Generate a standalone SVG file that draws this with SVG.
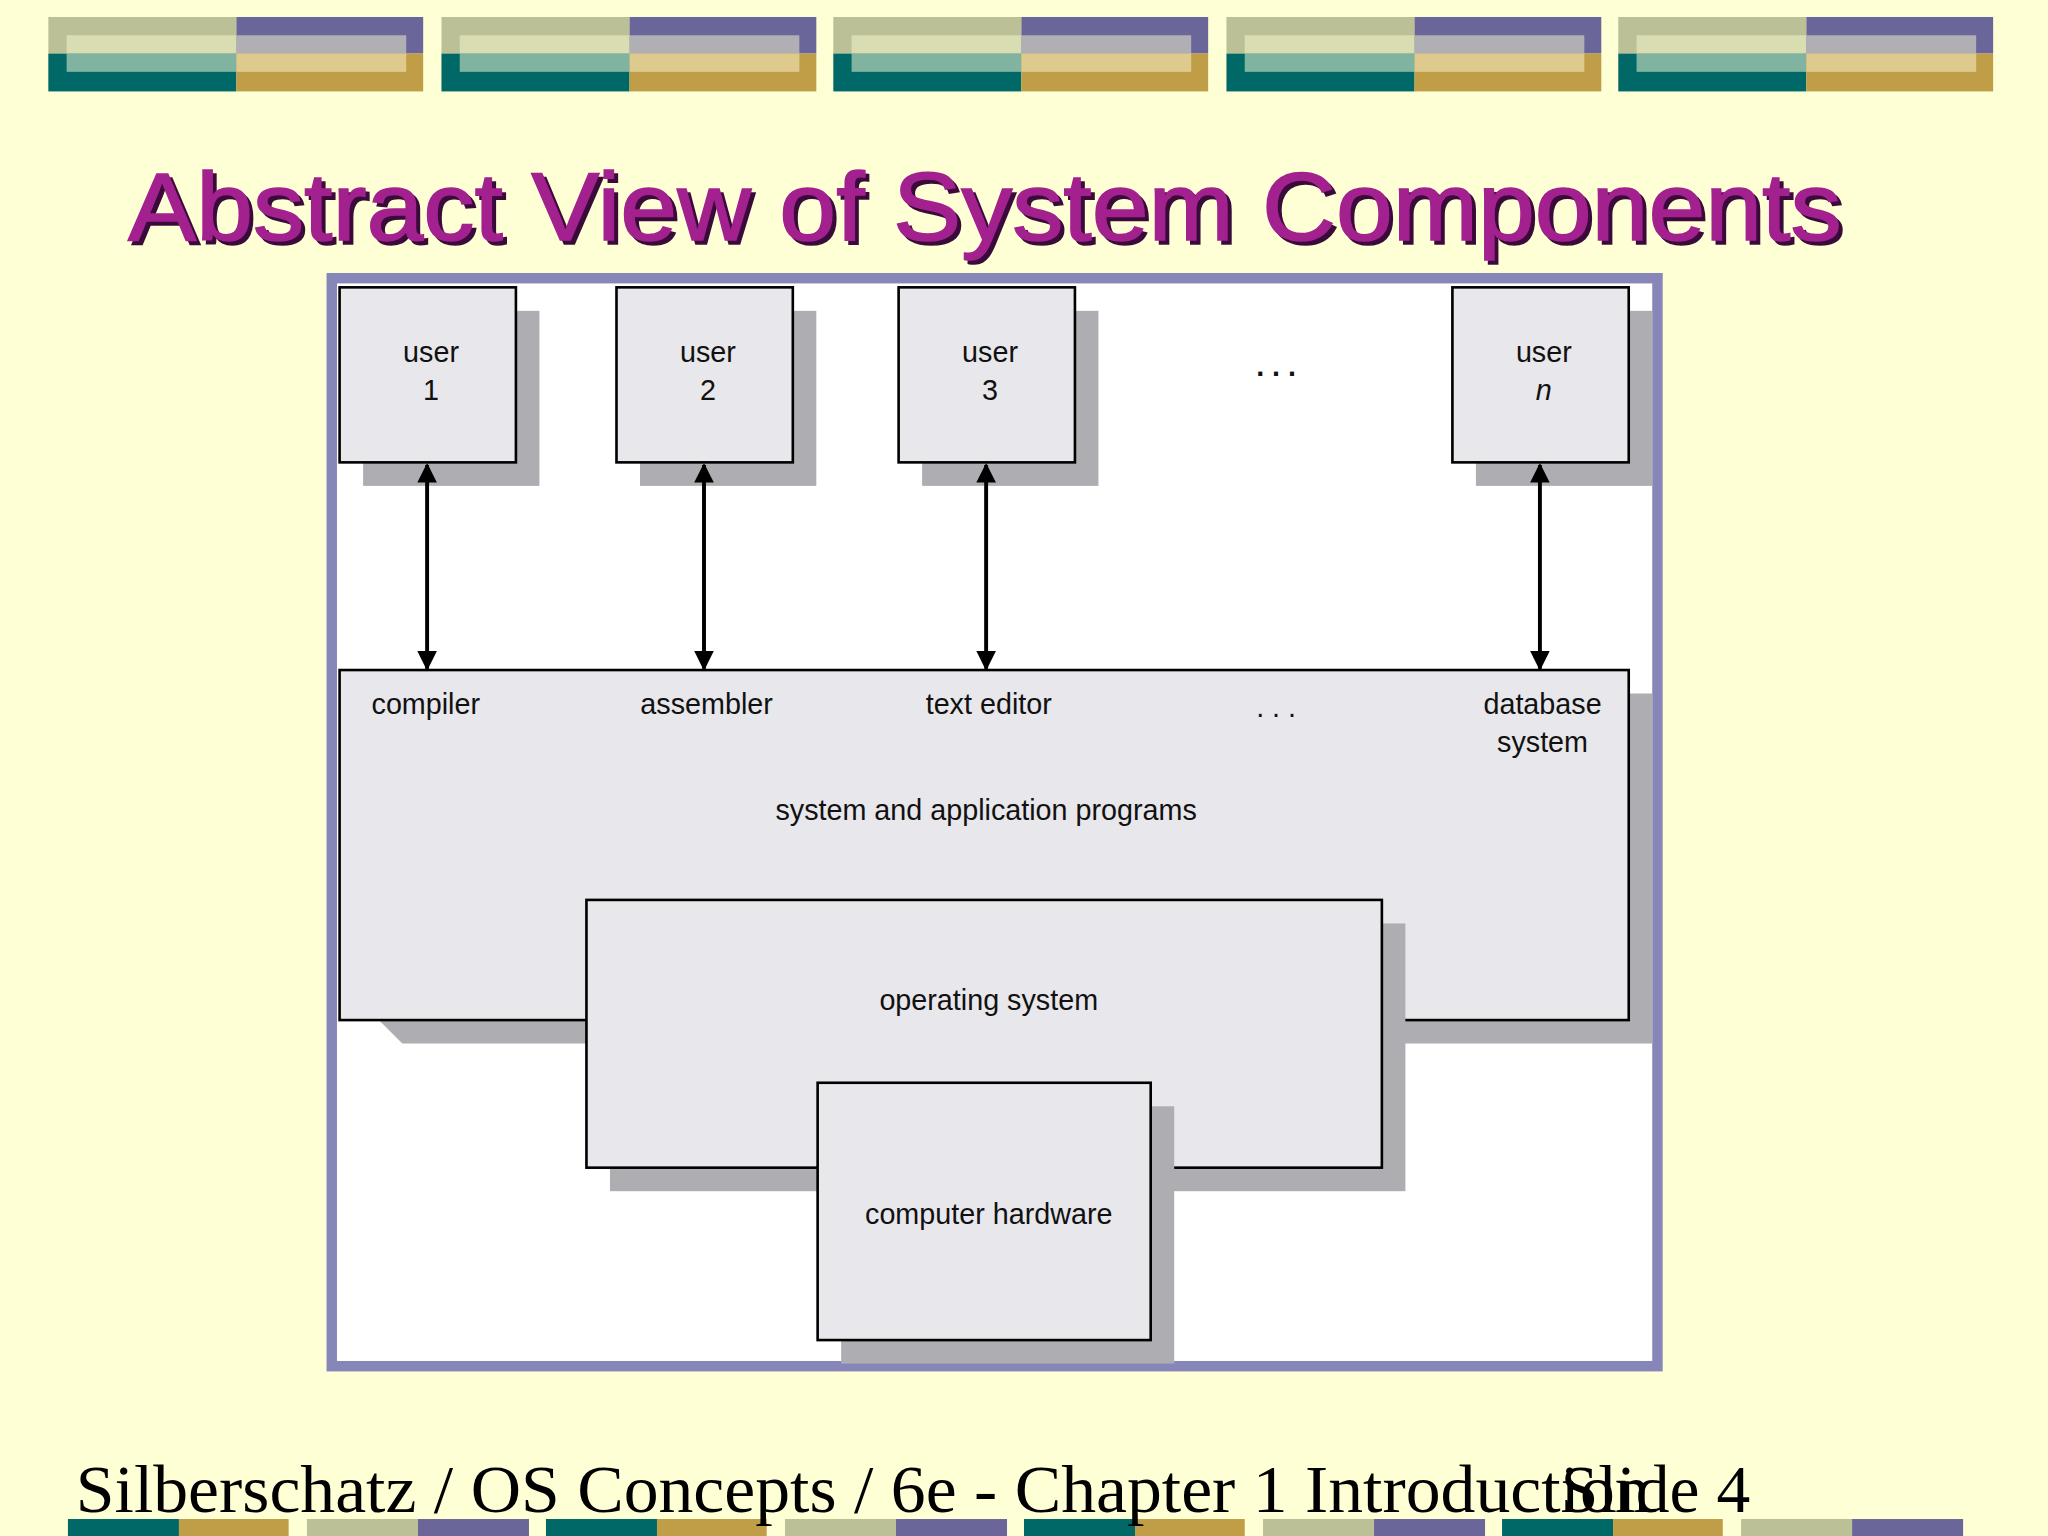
<svg xmlns="http://www.w3.org/2000/svg" width="2048" height="1536" viewBox="0 0 2048 1536">
<defs>
<style>
.box{fill:#e8e7eb;stroke:#000;stroke-width:2}
.sh{fill:#aeadb2}
.t{font-family:"Liberation Sans",Arial,sans-serif;font-size:22px;fill:#111;text-anchor:middle}
.ar{stroke:#000;stroke-width:3;marker-start:url(#a);marker-end:url(#a)}
</style>
<marker id="a" viewBox="0 0 10 10" refX="9" refY="5" markerWidth="5" markerHeight="5" orient="auto-start-reverse"><path d="M0,0L10,5L0,10z" fill="#000"/></marker>
<g id="ban">
<rect x="0" y="0" width="144" height="28" fill="#bcc096"/>
<rect x="144" y="0" width="143" height="28" fill="#6a6699"/>
<rect x="0" y="28" width="144" height="29" fill="#006866"/>
<rect x="144" y="28" width="143" height="29" fill="#c09e48"/>
<rect x="14" y="14" width="130" height="14" fill="#dadcb2"/>
<rect x="144" y="14" width="130" height="14" fill="#b0b0b4"/>
<rect x="14" y="28" width="130" height="14" fill="#80b4a0"/>
<rect x="144" y="28" width="130" height="14" fill="#dfca8e"/>
</g>
<g id="bs">
<rect x="0" y="0" width="85" height="20" fill="#006866"/>
<rect x="85" y="0" width="84" height="20" fill="#c09e48"/>
<rect x="183" y="0" width="85" height="20" fill="#bcc096"/>
<rect x="268" y="0" width="85" height="20" fill="#6a6699"/>
</g>
</defs>
<rect width="2048" height="1536" fill="#ffffd6"/>
<g transform="scale(1.30612)">
<g id="banners">
<use href="#ban" x="37" y="13"/><use href="#ban" x="338" y="13"/><use href="#ban" x="638" y="13"/><use href="#ban" x="939" y="13"/><use href="#ban" x="1239" y="13"/>
</g>
<g id="bottom">
<use href="#bs" x="52" y="1163"/><use href="#bs" x="418" y="1163"/><use href="#bs" x="784" y="1163"/><use href="#bs" x="1150" y="1163"/>
</g>
<g id="title" font-family="'Liberation Sans',Arial,sans-serif" font-size="74" stroke-width="1.2">
<text x="101" y="187" fill="#3a0a3a" stroke="#3a0a3a" textLength="1312" lengthAdjust="spacingAndGlyphs">Abstract View of System Components</text>
<text x="98" y="184" fill="#a3218f" stroke="#a3218f" textLength="1312" lengthAdjust="spacingAndGlyphs">Abstract View of System Components</text>
</g>
<rect x="254" y="213" width="1015" height="833" fill="#fff" stroke="#8786b8" stroke-width="8"/>
<g id="user1"><rect class="sh" x="278" y="238" width="135" height="134"/><rect class="box" x="260" y="220" width="135" height="134"/><text class="t" x="330" y="277">user</text><text class="t" x="330" y="306">1</text></g>
<g id="user2"><rect class="sh" x="490" y="238" width="135" height="134"/><rect class="box" x="472" y="220" width="135" height="134"/><text class="t" x="542" y="277">user</text><text class="t" x="542" y="306">2</text></g>
<g id="user3"><rect class="sh" x="706" y="238" width="135" height="134"/><rect class="box" x="688" y="220" width="135" height="134"/><text class="t" x="758" y="277">user</text><text class="t" x="758" y="306">3</text></g>
<text class="t" x="977" y="288" font-size="30" font-weight="bold">. . .</text>
<g id="usern"><rect class="sh" x="1130" y="238" width="135" height="134"/><rect class="box" x="1112" y="220" width="135" height="134"/><text class="t" x="1182" y="277">user</text><text class="t" x="1182" y="306" font-style="italic">n</text></g>
<g id="apps"><path class="sh" d="M290,781L308,799L1265,799L1265,531L1247,531L1247,781Z"/><rect class="box" x="260" y="513" width="987" height="268"/>
<text class="t" x="326" y="547">compiler</text><text class="t" x="541" y="547">assembler</text><text class="t" x="757" y="547">text editor</text><text class="t" x="977" y="549" font-size="26">. . .</text><text class="t" x="1181" y="547">database</text><text class="t" x="1181" y="576">system</text><text class="t" x="755" y="628">system and application programs</text></g>
<g id="os"><rect class="sh" x="467" y="707" width="609" height="205"/><rect class="box" x="449" y="689" width="609" height="205"/><text class="t" x="757" y="773">operating system</text></g>
<g id="hw"><rect class="sh" x="644" y="847" width="255" height="197"/><rect class="box" x="626" y="829" width="255" height="197"/><text class="t" x="757" y="937">computer hardware</text></g>
<g id="connectors">
<line class="ar" x1="327" y1="356" x2="327" y2="512"/>
<line class="ar" x1="539" y1="356" x2="539" y2="512"/>
<line class="ar" x1="755" y1="356" x2="755" y2="512"/>
<line class="ar" x1="1179" y1="356" x2="1179" y2="512"/>
</g>
<g id="footer" font-family="'Liberation Serif','Times New Roman',serif" font-size="52" fill="#000" xml:space="preserve">
<text x="58" y="1158" textLength="1205" lengthAdjust="spacingAndGlyphs">Silberschatz /  OS Concepts / 6e - Chapter 1 Introduction</text>
<text x="1195" y="1158" textLength="145" lengthAdjust="spacingAndGlyphs">Slide 4</text>
</g>
</g>
</svg>
